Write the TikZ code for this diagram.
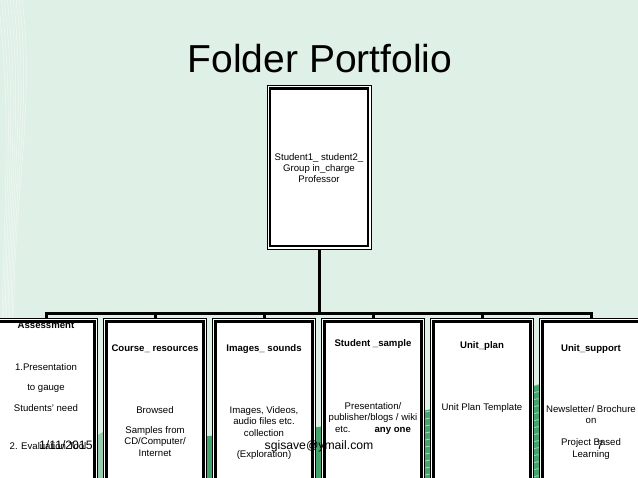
\documentclass[tikz,border=0pt]{standalone}
\usepackage{fontspec}
\setmainfont{Liberation Sans}
\usetikzlibrary{calc}
\definecolor{bgmint}{HTML}{DFF0E6}
\definecolor{bglight}{HTML}{EFF7F2}
\definecolor{leafgreen}{HTML}{43A46D}

\tikzset{
  folder/.style={draw, line width=0.9pt, fill=white, anchor=north, inner sep=0pt},
  rim/.style={line width=2.2pt},
  link/.style={line width=3pt},
  head/.style={font=\fontsize{9.6}{11.5}\selectfont\bfseries, anchor=base, inner sep=0pt},
  body/.style={font=\fontsize{9.6}{11.5}\selectfont, align=center, anchor=north, inner sep=0pt},
  foot/.style={font=\fontsize{12.2}{14}\selectfont, anchor=base, inner sep=0pt}
}

\begin{document}
\begin{tikzpicture}[x=1pt, y=-1pt]

  % Slide background
  \useasboundingbox (0,0) rectangle (638,478);
  \clip (0,0) rectangle (638,478);
  \shade[left color=bgmint, middle color=bglight, right color=bgmint] (0,0) rectangle (638,478);
  \foreach \k in {0,...,8} {
    \draw[white, opacity=0.6, line width=0.5pt]
      (3*\k-2,-2) .. controls (3*\k+12,110) and (\k+4,200) .. (1.5*\k+2,330);
  }

  % Green wave behind the folders
  \fill[leafgreen!55] (70,485) .. controls (85,430) and (110,412) .. (170,445) -- (170,485) -- cycle;
  \fill[leafgreen] plot[smooth] coordinates {(150,447) (209,436) (318,427) (427,410) (536,385) (645,352)}
    -- (645,485) -- (150,485) -- cycle;
  \begin{scope}
    \clip plot[smooth] coordinates {(150,447) (209,436) (318,427) (427,410) (536,385) (645,352)}
      -- (645,485) -- (150,485) -- cycle;
    \foreach \k in {0,...,40} {
      \draw[white, opacity=0.6, line width=0.7pt] (380,350+7*\k) -- (660,300+7*\k);
    }
  \end{scope}

  % Title
  \node[font=\fontsize{39}{45}\selectfont, anchor=base, inner sep=0pt] (title) at (320,73) {Folder Portfolio};

  % Folders
  \node[folder, minimum width=104pt, minimum height=164pt] (top) at (319,85) {};
  \foreach \i/\c in {1/46,2/155,3/264,4/373,5/482,6/591} {
    \node[folder, minimum width=103pt, minimum height=185pt] (b\i) at (\c,318) {};
  }
  \foreach \n in {top,b1,b2,b3,b4,b5,b6} {
    \draw[rim] ([shift={(3.5pt,-3.5pt)}]\n.north west) rectangle ([shift={(-3.5pt,3.5pt)}]\n.south east);
  }

  % Connectors
  \draw[link] (top.south) -- ++(0,64) coordinate (hub);
  \foreach \i in {1,...,6} {
    \draw[link] (hub) -| (b\i.north);
  }

  % Top folder text
  \node[body, font=\fontsize{9.6}{11}\selectfont] (who) at (319,153)
    {Student1\_ student2\_\\Group in\_charge\\Professor};

  % Headings
  \node[head] (h1) at (46,329) {Assessment};
  \node[head] (h2) at (155,352) {Course\_ resources};
  \node[head] (h3) at (264,352) {Images\_ sounds};
  \node[head] (h4) at (373,347) {Student \_sample};
  \node[head] (h5) at (482,349) {Unit\_plan};
  \node[head] (h6) at (591,352) {Unit\_support};

  % Folder contents
  \node[body, font=\fontsize{9.6}{20.5}\selectfont] (t1) at (46,363)
    {1.Presentation\\to gauge\\Students’ need};
  \node[body, anchor=base] (t1b) at (48,450) {2. Evaluation Tool};
  \node[body] (t2) at (155,406) {Browsed\\[8.5pt]Samples from\\CD/Computer/\\Internet};
  \node[body] (t3) at (264,406) {Images, Videos,\\audio files etc.\\collection\\[9.5pt](Exploration)};
  \node[body] (t4) at (373,402) {Presentation/\\publisher/blogs / wiki\\etc.\hspace{24pt}\textbf{any one}};
  \node[body] (t5) at (482,403) {Unit Plan Template};
  \node[body] (t6) at (591,405) {Newsletter/ Brochure\\on\\[10.5pt]Project Based\\Learning};

  % Footer
  \node[foot, anchor=base west] (date) at (39,450) {1/11/2015};
  \node[foot] (mail) at (319,450) {sgisave@ymail.com};
  \node[foot] (page) at (600,450) {7};

\end{tikzpicture}
\end{document}
